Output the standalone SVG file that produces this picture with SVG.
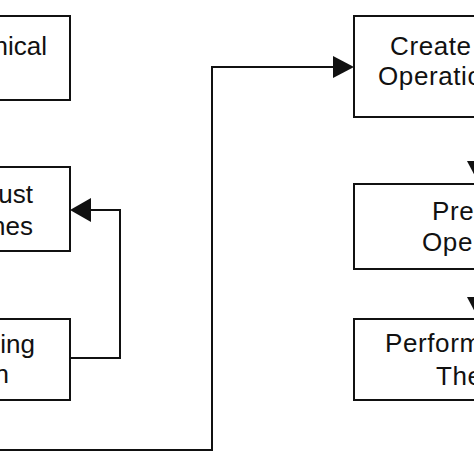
<svg xmlns="http://www.w3.org/2000/svg" width="474" height="474" viewBox="0 0 474 474">
<style>
.box{fill:#fff;stroke:#111;stroke-width:2}
.t{font-family:"Liberation Sans",Arial,sans-serif;font-size:26px;fill:#111}
.s{letter-spacing:0.6px}
.e{text-anchor:end}
.line{fill:none;stroke:#111;stroke-width:2}
.head{fill:#111}
</style>
<rect width="474" height="474" fill="#fff"/>
<g id="connectors">
<path class="line" d="M70,358 H120 V210 H90"/>
<polygon class="head" points="70,210 91,198 91,222"/>
<path class="line" d="M0,450 H212 V67 H334"/>
<polygon class="head" points="354,67 333,56 333,78"/>
<polygon class="head" points="467,161 489,161 478,182"/>
<polygon class="head" points="467,297 489,297 478,318"/>
</g>
<g id="node-technical">
<rect class="box" x="-10" y="16" width="80" height="84"/>
<text class="t e" x="47" y="55">hnical</text>
</g>
<g id="node-adjust">
<rect class="box" x="-10" y="167" width="80" height="84"/>
<text class="t e" x="33" y="203">ust</text>
<text class="t e" x="33" y="235">nes</text>
</g>
<g id="node-testing">
<rect class="box" x="-10" y="319" width="80" height="81"/>
<text class="t e" x="35" y="353">ing</text>
<text class="t e" x="9" y="383">n</text>
</g>
<g id="node-create">
<rect class="box" x="354" y="16" width="140" height="101"/>
<text class="t s" x="390" y="55">Create</text>
<text class="t s" x="378" y="85">Operatio</text>
</g>
<g id="node-prepare">
<rect class="box" x="354" y="184" width="140" height="85"/>
<text class="t s" x="432" y="220">Pre</text>
<text class="t s" x="422" y="251">Ope</text>
</g>
<g id="node-perform">
<rect class="box" x="354" y="319" width="140" height="81"/>
<text class="t s" x="385" y="352">Perform</text>
<text class="t s" x="436" y="385">The</text>
</g>
</svg>
